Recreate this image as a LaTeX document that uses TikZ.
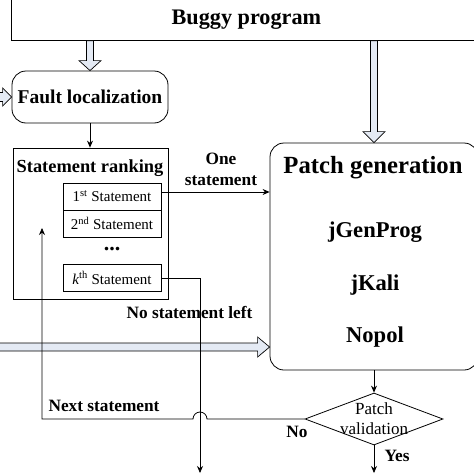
\documentclass[tikz,border=0pt]{standalone}
\usepackage{fontspec}
\setmainfont{Liberation Serif}
\usetikzlibrary{shapes.geometric,arrows.meta,calc}
\definecolor{arrowfill}{HTML}{E4EAF4}
\newcommand{\downblock}[5]{% start, tip, shaft half, head half, head length
  \path[hollow] let \p1=(#1), \p2=(#2) in
    (\x2-#3,\y1) -- (\x2-#3,\y2+#5) -- (\x2-#4,\y2+#5) -- (\x2,\y2) --
    (\x2+#4,\y2+#5) -- (\x2+#3,\y2+#5) -- (\x2+#3,\y1) -- cycle;}
\newcommand{\rightblock}[5]{% start, tip, shaft half, head half, head length
  \path[hollow] let \p1=(#1), \p2=(#2) in
    (\x1,\y2+#3) -- (\x2-#5,\y2+#3) -- (\x2-#5,\y2+#4) -- (\x2,\y2) --
    (\x2-#5,\y2-#4) -- (\x2-#5,\y2-#3) -- (\x1,\y2-#3) -- cycle;}
\tikzset{
  box/.style={draw, line width=0.8pt},
  conn/.style={draw, line width=0.8pt, -{Stealth[length=7pt,width=6pt]}},
  hollow/.style={fill=arrowfill, draw, line width=0.7pt},
  lbl/.style={font=\fontsize{17.3}{21}\selectfont\bfseries, inner sep=0pt},
  tool/.style={font=\fontsize{22.6}{25}\selectfont\bfseries, inner sep=0pt},
  stm/.style={box, minimum width=98pt, minimum height=27pt, inner sep=0pt,
    font=\fontsize{15}{17}\selectfont},
}
\begin{document}
\begin{tikzpicture}[x=1pt,y=1pt]
\useasboundingbox (0,0) rectangle (474,-474);
\clip (0,0) rectangle (474,-474);

% Buggy program
\node[box, anchor=north west, minimum width=470pt, minimum height=42pt,
  font=\fontsize{22.2}{24}\selectfont\bfseries] (bp) at (11,2) {Buggy program};

% Fault localization
\node[box, rounded corners=14pt, minimum width=156pt, minimum height=52pt,
  font=\fontsize{19.5}{22}\selectfont\bfseries] (fl) at (90,-97) {Fault localization};

% Statement ranking
\node[box, minimum width=155pt, minimum height=151pt] (sr) at (90.5,-223.5) {};
\node[font=\fontsize{18.4}{20}\selectfont\bfseries, inner sep=0pt] (srt) at (90,-168) {Statement ranking};
\node[stm] (s1) at (112,-196.5) {1\textsuperscript{st} Statement};
\node[stm] (s2) at (112,-223.5) {2\textsuperscript{nd} Statement};
\node[font=\fontsize{22}{24}\selectfont\bfseries, inner sep=0pt] (dots) at (112,-249) {...};
\node[stm] (sk) at (112,-278) {\textit{k}\textsuperscript{th} Statement};

% Patch generation
\node[box, rounded corners=14pt, minimum width=208pt, minimum height=227pt] (pg) at (374,-256.5) {};
\node[font=\fontsize{24.7}{27}\selectfont\bfseries, inner sep=0pt] (pgt) at (373,-168) {Patch generation};
\node[tool] (t1) at (375,-232) {jGenProg};
\node[tool] (t2) at (375,-285) {jKali};
\node[tool] (t3) at (375,-337) {Nopol};

% Patch validation
\node[box, diamond, minimum width=138pt, minimum height=52pt, inner sep=0pt] (pv) at (374,-419) {};
\node[align=center, font=\fontsize{17}{20}\selectfont, inner sep=0pt] (pvt) at (374,-419) {Patch\\validation};

% hollow arrows
\coordinate (h1s) at (bp.south -| fl.north);
\downblock{h1s}{fl.north}{3.5pt}{11pt}{10pt}
\coordinate (h2s) at (bp.south -| pg.north);
\downblock{h2s}{pg.north}{3.5pt}{11pt}{11pt}
\coordinate (inL) at (-5,-97);
\rightblock{inL}{fl.west}{4.5pt}{9pt}{9pt}
\coordinate (inB) at (-5,-347);
\coordinate (inBt) at (inB -| pg.west);
\rightblock{inB}{inBt}{4pt}{10pt}{12pt}

% connectors
\draw[conn] (fl.south) -- (fl.south |- sr.north);
\coordinate (os) at ($(s1.east)+(0,4.5)$);
\draw[conn] (os) -- (os -| pg.west);
\coordinate (bot1) at (200,-473);
\draw[conn] (sk.east) -| (bot1);
\draw[conn] (pg.south) -- (pv.north);
\coordinate (bot2) at (374,-473);
\draw[conn] (pv.south) -- (bot2);
\coordinate (hopR) at (207,-419);
\coordinate (lp) at (42,-228);
\draw[conn] (pv.west) -- (hopR) arc (0:180:7) -- (42,-419) -- (lp);

% labels
\node[lbl, align=center] (one) at (221,-169) {One\\statement};
\node[lbl] (nsl) at (189.5,-312) {No statement left};
\node[lbl] (ns) at (104,-406) {Next statement};
\node[lbl] (no) at (297,-432) {No};
\node[lbl] (yes) at (397,-456) {Yes};
\end{tikzpicture}
\end{document}
